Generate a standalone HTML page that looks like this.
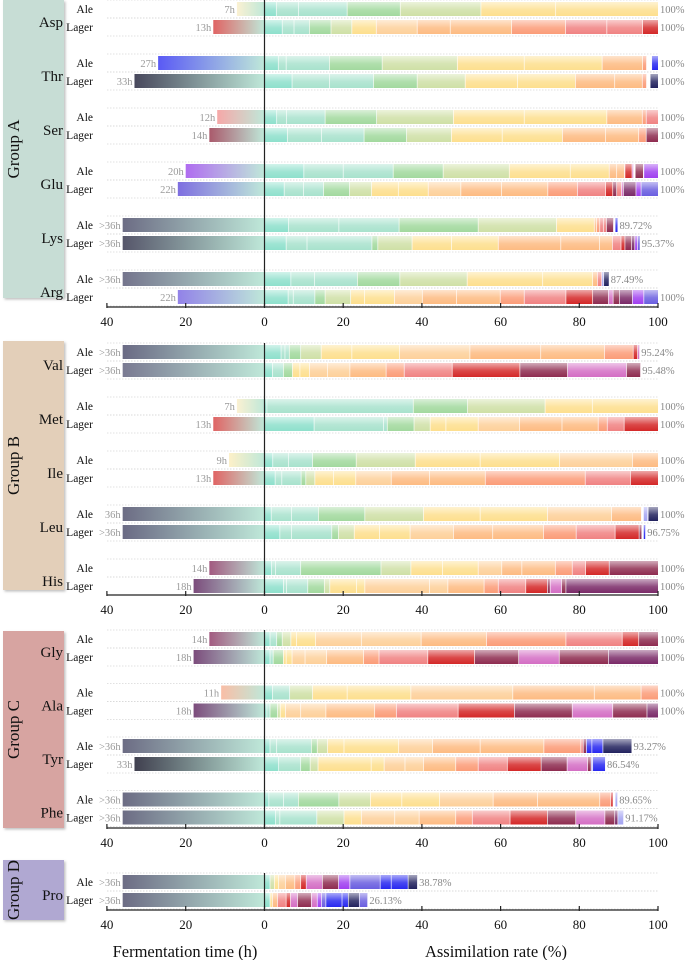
<!DOCTYPE html>
<html><head><meta charset="utf-8">
<style>
html,body{margin:0;padding:0;background:#fff;}
svg{display:block;font-family:"Liberation Serif",serif;}
</style></head>
<body>
<svg id="chart" width="685" height="960" viewBox="0 0 685 960" xmlns="http://www.w3.org/2000/svg">
<defs>
<linearGradient id="gloss" x1="0" y1="0" x2="0" y2="1">
<stop offset="0" stop-color="#fff" stop-opacity="0.6"/>
<stop offset="0.55" stop-color="#fff" stop-opacity="0.15"/>
<stop offset="1" stop-color="#fff" stop-opacity="0"/>
</linearGradient>
<filter id="shadow" x="-10%" y="-5%" width="130%" height="115%"><feDropShadow dx="1.5" dy="1.5" stdDeviation="1.2" flood-color="#000" flood-opacity="0.25"/></filter>
</defs>
</svg>
<script>
const groupNames = ["Group A","Group B","Group C","Group D"];
const groupAminos = [["Asp","Thr","Ser","Glu","Lys","Arg"],["Val","Met","Ile","Leu","His"],["Gly","Ala","Tyr","Phe"],["Pro"]];
const beerTypes = ["Ale","Lager"];
const hours = [7,13,27,33,12,14,20,22,36,36,36,22,36,36,7,13,9,13,36,36,14,18,14,18,11,18,36,33,36,36,36,36];
const hourLabels = ["7h","13h","27h","33h","12h","14h","20h","22h",">36h",">36h",">36h","22h",">36h",">36h","7h","13h","9h","13h","36h",">36h","14h","18h","14h","18h","11h","18h",">36h","33h",">36h",">36h",">36h",">36h"];
const leftColors = ["#fbf1d2","#e06464","#5a5af5","#48485c","#f6a8a8","#aa5a6c","#b06cf0","#7e6ee0","#6c6c84","#56566a","#74748c","#9282e8","#6a6a84","#7a7a92","#fbf1d2","#e06464","#fdf0c8","#e06464","#6c6c84","#6a6a84","#a25a80","#7c4c7c","#a25a80","#7c4c7c","#f9bea6","#7c4c7c","#6c6c84","#40404f","#6c6c84","#6c6c84","#6c6c84","#6c6c84"];
const totals = ["100%","100%","100%","100%","100%","100%","100%","100%","89.72%","95.37%","87.49%","100%","95.24%","95.48%","100%","100%","100%","100%","100%","96.75%","100%","100%","100%","100%","100%","100%","93.27%","86.54%","89.65%","91.17%","38.78%","26.13%"];
const segEnds = [
[3,8.6,21,34.5,55,74,100],
[4.5,7.5,11.4,16.9,22.2,28.4,38.8,47.2,62.8,76.5,87,96.1,100],
[3.5,5.5,16.5,29.9,49,66,85.8,96.1,97,98.4,100],
[7,16.5,27.7,38.8,51,64.3,79,89,96,97,98,100],
[3.1,5.6,15.4,28.5,48,66,87,96,97,100],
[5.8,14.5,25.3,36.1,47.5,60.4,75.7,86.7,95.1,97,100],
[10,20,32.7,45.4,62.2,77.7,87.6,89.5,91.4,91.6,93.4,93.7,94.2,96.2,96.4,100],
[5,9.9,15,21.6,27.2,34,41.6,49.9,60.2,72,79.5,86.7,88.5,89.5,90.7,91.2,94.4,95.7,100],
[6.1,18.9,34.2,54.3,74.2,83.8,84.4,85.2,86.1,86.9,88.6,89.1,89.72],
[5.5,10.8,27.3,28.8,37.5,47.5,59.4,75.3,85.1,88.4,90.6,91.6,93.3,94.1,94.8,95.37],
[6.7,12.7,23.6,34.4,51.5,70.7,83.4,84.6,85.7,86.2,87.49],
[6,7.3,12.8,15.4,21.9,25.4,33,40.1,48.8,59.9,66,76.6,83.4,87.4,88.6,90.2,93.5,96.4,100],
[4.2,5.2,6.3,9.2,14.4,22.2,34.3,52.2,70.2,86.4,93.7,94.8,95.24],
[2,4.8,7.1,9,11.4,16,21.7,30.9,35.5,47.7,64.9,77,92,95.48],
[0.6,37.8,51.6,71.3,83.3,100],
[12.6,30.2,31.2,38,42.1,46.1,54.3,64.8,75.6,84.8,87.1,91.4,100],
[2.1,6.1,12.2,23.3,38.3,54.8,75,93.5,100],
[2.7,4.4,9.3,10.5,12.8,17.5,23.2,32.2,41.9,56.1,81.5,93,100],
[1.7,6.9,13.7,25.5,40.4,54.8,71.9,88.2,95.7,96.3,97.3,97.5,100],
[3.9,6.9,17.1,18.8,22.8,29.2,37,48,58,70.9,79.2,89.1,95.2,95.8,96.3,96.75],
[1.8,2.8,9.2,29.6,37.2,45.2,54.3,60.3,65.4,73.9,78.2,81.6,87.6,100],
[4.8,5.6,11,15.2,16.6,23.4,25.5,41.9,46.6,55.8,59.4,66.4,71.9,72.6,75.5,76.6,100],
[1.4,3.1,4.5,6.7,8.1,13,24.6,39.8,56.4,76.6,90.9,95.1,100],
[1.4,2.2,4.8,5.5,7,10.3,15.8,25.2,29.1,41.5,53.4,64.6,74.9,87.4,100],
[2,6.4,12.2,21,37.2,63.1,83.8,95.7,100],
[0.6,1.4,3.3,4,5.3,9.2,15.6,28,33.5,49.2,63.5,78.2,88.5,97.2,100],
[1.4,3.1,11.9,13.4,16,20.2,34.1,42.7,54.8,71,80.4,81,81.8,83.2,86,93.27],
[3.6,9.2,11.6,13.6,27.1,30.4,35.7,40.4,48.6,54.3,61.7,70.3,76.9,82.1,83,83.4,86.54],
[1.1,4.8,8.6,18.9,26.9,34.9,44.5,58.1,69.4,85.2,88,88.5,89.1,89.65],
[2.8,3.9,13.3,20.2,24.6,33.1,39.3,48.6,52.8,62.4,71.9,79.1,86.5,89,89.8,91.17],
[1.4,2.5,3.6,5.3,7.7,9.2,10.6,14.7,18.8,21.7,29.4,32.2,36.5,38.78],
[1.4,2,3.3,5.5,6.6,8.4,11.9,13.4,14.5,15.6,19.7,21.3,24.1,26.13]
];
const segCols = [
[0,1,1,2,3,4,4],
[0,1,1,2,3,4,5,6,6,7,8,8,9],
[0,1,1,2,3,4,4,6,7,-1,14],
[0,1,1,2,3,4,4,6,6,7,-1,15],
[0,1,1,2,3,4,4,6,7,8],
[0,1,1,2,3,4,4,6,6,7,10],
[0,1,1,2,3,4,4,6,6,-1,9,11,-1,10,-1,13],
[0,1,1,2,3,4,4,5,6,6,7,8,9,10,8,11,12,13,16],
[0,1,1,2,3,4,6,7,8,8,10,-1,14],
[0,1,1,2,3,4,4,6,6,6,8,9,10,12,13,16],
[0,1,1,2,3,4,4,6,8,17,15],
[0,1,1,2,3,4,4,5,6,6,7,8,9,10,11,10,12,13,16],
[0,1,1,2,3,4,4,5,6,6,7,9,11],
[0,1,2,4,4,5,5,6,7,8,9,10,11,10],
[0,1,2,3,4,4],
[0,1,1,2,3,4,4,5,6,6,7,8,9],
[0,1,1,2,3,4,4,5,6],
[0,1,1,2,3,4,4,5,6,6,7,8,9],
[0,1,1,2,3,4,4,5,6,-1,17,-1,15],
[0,1,1,2,3,4,4,5,6,6,7,8,9,10,-1,14],
[0,1,1,2,3,4,4,5,6,6,7,8,9,10],
[0,1,1,2,3,4,4,5,5,6,7,8,9,10,11,10,12],
[0,1,2,3,4,4,5,5,6,7,8,9,10],
[0,1,2,4,4,5,5,6,7,8,9,10,11,10,12],
[0,1,3,4,4,5,6,6,7],
[0,1,2,3,4,5,5,6,7,8,9,10,11,10,12],
[0,1,1,2,3,4,4,5,6,6,7,8,10,14,14,15],
[0,1,2,3,4,4,5,5,6,7,8,9,10,11,10,17,14],
[0,1,1,2,3,4,4,5,6,6,7,9,-1,17],
[0,1,1,3,4,5,5,6,7,8,9,10,11,10,12,17],
[0,3,4,5,6,7,9,11,10,13,16,14,14,15],
[0,4,6,8,9,11,10,11,13,16,14,14,15,16]
];
const leftTicks = [40,20];
const rightTicks = [0,20,40,60,80,100];

// palette & layout (styling, not data)
const palette = ["#8ee0cc","#a8e2cd","#a2d99e","#cfe0a6","#fddf8e","#fdd09a","#fdbb82","#fb9c78","#f08282","#d42828","#8e2c50","#d46ec4","#7a2a68","#a040f0","#2828f0","#22225e","#6a5ee0","#a4a4f2"];
const panelColors = ["#c7ddd5","#e3cfb9","#d7a4a1","#b0a8d2"];
const groupTop = [9,352,639,882];
const aminoStep = [54,54,53.5,54];
const axisY = [307,595,828,910];
const panelBox = [[0,298],[341,590],[631,828],[860,920]];
const X0 = 264.5, HS = 3.94, PS = 3.935, XL = 107, XR = 658, BH = 14;
const xLeft = h => X0 - h*HS;
const xRight = p => X0 + p*PS;

const svg = document.getElementById('chart');
const NS = "http://www.w3.org/2000/svg";
function mk(tag, attrs, parent){ const e=document.createElementNS(NS,tag); for(const k in attrs) e.setAttribute(k,attrs[k]); (parent||svg).appendChild(e); return e; }
const defs = svg.querySelector('defs');

let row = 0;
groupNames.forEach((gName, g) => {
  const gEl = mk('g', {});
  
  
  const [py0, py1] = panelBox[g];
  const panel = mk('rect', {x:3, y:py0, width:61, height:py1-py0, fill:panelColors[g], filter:'url(#shadow)'}, gEl);
  
  
  const cy = (py0+py1)/2;
  const gl = mk('text', {x:0, y:0, 'font-size':17, fill:'#111', 'text-anchor':'middle', transform:`translate(19,${cy}) rotate(-90)`}, gEl);
  gl.textContent = gName;
  
  

  const topY = groupTop[g] - 9;
  groupAminos[g].forEach((aa, a) => {
    const base = groupTop[g] + a*aminoStep[g];
    const al = mk('text', {x:63, y:base+18, 'font-size':15, fill:'#111', 'text-anchor':'end'}, gEl);
    al.textContent = aa;
    
    
    beerTypes.forEach((bt, b) => {
      const yc = base + b*18;
      const yTop = yc - BH/2;
      // dotted grid lines
      [yTop-2, yTop+BH+2].forEach(ly => {
        const ln = mk('line', {x1:XL, x2:XR, y1:ly, y2:ly, stroke:'#d8d8d8', 'stroke-width':0.8, 'stroke-dasharray':'1.5,1.5'}, gEl);
        
        
      });
      const bl = mk('text', {x:93, y:yc+4, 'font-size':11.5, fill:'#111', 'text-anchor':'end'}, gEl);
      bl.textContent = bt;
      
      
      // left bar
      const xs = xLeft(hours[row]);
      const gid = 'lg' + row;
      const lg = mk('linearGradient', {id:gid, gradientUnits:'userSpaceOnUse', x1:xs, y1:0, x2:X0, y2:0}, defs);
      mk('stop', {offset:0, 'stop-color':leftColors[row]}, lg);
      mk('stop', {offset:1, 'stop-color':'#bfe8d9'}, lg);
      const lb = mk('rect', {x:xs, y:yTop, width:X0-xs, height:BH, fill:`url(#${gid})`}, gEl);
      
      
      const ht = mk('text', {x:xs-2, y:yc+4, 'font-size':10.5, fill:'#9a9a9a', 'text-anchor':'end'}, gEl);
      ht.textContent = hourLabels[row];
      
      
      // right segments
      let prev = 0;
      segEnds[row].forEach((end, s) => {
        const c = segCols[row][s];
        if (c >= 0) {
          const x1 = xRight(prev), x2 = xRight(end);
          const seg = mk('rect', {x:x1, y:yTop, width:Math.max(0.6,x2-x1), height:BH, fill:palette[c]}, gEl);
          
          
          mk('rect', {x:x1, y:yTop, width:Math.max(0.6,x2-x1), height:BH, fill:'url(#gloss)'}, gEl);
          if (s>0) mk('line', {x1:x1, x2:x1, y1:yTop, y2:yTop+BH, stroke:'#fff', 'stroke-width':0.7, 'stroke-opacity':0.9}, gEl);
        }
        prev = end;
      });
      const tot = segEnds[row][segEnds[row].length-1];
      const pt = mk('text', {x:xRight(tot)+2, y:yc+4, 'font-size':10.5, fill:'#888', 'text-anchor':'start'}, gEl);
      pt.textContent = totals[row];
      
      
      row++;
    });
  });
  // zero line
  const zl = mk('line', {x1:X0, x2:X0, y1:topY, y2:axisY[g], stroke:'#222', 'stroke-width':1.2}, gEl);
  
  
  // axis
  const ay = axisY[g];
  const ax = mk('line', {x1:XL, x2:XR, y1:ay, y2:ay, stroke:'#222', 'stroke-width':1.2}, gEl);
  
  
  const tickList = leftTicks.map(v => [xLeft(v), v]).concat(rightTicks.map(v => [xRight(v), v]));
  tickList.forEach(([tx, v]) => {
    const tk = mk('line', {x1:tx, x2:tx, y1:ay-4, y2:ay+1, stroke:'#222', 'stroke-width':1.2}, gEl);
    
    
    const tl = mk('text', {x:tx, y:ay+19, 'font-size':13, fill:'#111', 'text-anchor':'middle'}, gEl);
    tl.textContent = v;
    
    
  });
});
const t1 = mk('text', {x:185, y:957, 'font-size':16.5, fill:'#111', 'text-anchor':'middle'});
t1.textContent = 'Fermentation time (h)';


const t2 = mk('text', {x:496, y:957, 'font-size':16.5, fill:'#111', 'text-anchor':'middle'});
t2.textContent = 'Assimilation rate (%)';


</script>
</body></html>
